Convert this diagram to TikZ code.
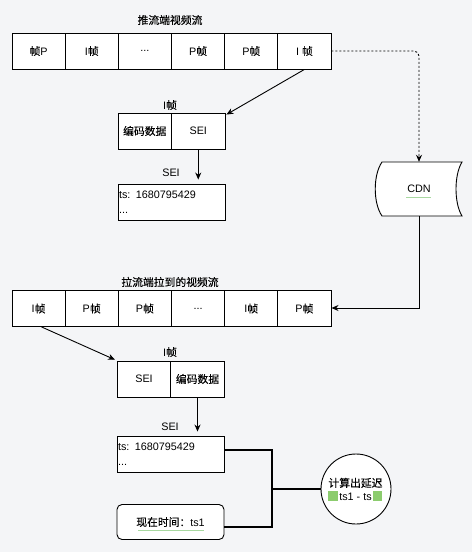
\documentclass[tikz,border=0pt]{standalone}
\usepackage{fontspec}
\setmainfont{Liberation Sans}
\newfontfamily\cjk[FakeBold=0.1]{Noto Sans CJK SC}
\usetikzlibrary{arrows.meta,calc}
\definecolor{bggray}{HTML}{F4F5F7}
\definecolor{hlgreen}{HTML}{8CCC6E}
\definecolor{ulgreen}{HTML}{A8D8A0}
\begin{document}
\begin{tikzpicture}[x=1pt,y=-1pt,
  every node/.style={font=\fontsize{10.8}{13}\selectfont, text=black},
  cell/.style={draw, line width=0.9pt, fill=white, minimum width=53.2pt, minimum height=36pt, inner sep=0pt, anchor=center},
  half/.style={draw, line width=0.9pt, fill=white, minimum width=53.5pt, minimum height=36pt, inner sep=0pt},
  seibox/.style={draw, line width=0.9pt, fill=white, minimum width=107pt, minimum height=36pt, text width=105pt, align=left, inner sep=1pt, font=\fontsize{10.8}{14.5}\selectfont},
  lbl/.style={inner sep=0pt},
  arr/.style={line width=0.9pt, -{Stealth[length=7pt,width=6pt]}},
  thick line/.style={line width=1.8pt}
]
\useasboundingbox (0,0) rectangle (474,554);
\fill[white] (0,0) rectangle (474,554);
\fill[bggray] (0,0) rectangle (472,552);

% top stream
\node[lbl] (title1) at (170,20) {\cjk 推流端视频流};
\node[cell] (t1) at (38.6,51) {{\cjk 帧}P};
\node[cell] (t2) at (91.75,51) {I{\cjk 帧}};
\node[cell] (t3) at (144.9,51) {...};
\node[cell] (t4) at (198.1,51) {P{\cjk 帧}};
\node[cell] (t5) at (251.25,51) {P{\cjk 帧}};
\node[cell] (t6) at (304.4,51) {I {\cjk 帧}};

% pushed I frame
\node[lbl] (lia) at (170,105) {I{\cjk 帧}};
\node[half] (a1) at (144.75,131) {\cjk 编码数据};
\node[half] (a2) at (198.25,131) {SEI};
\node[lbl] (lsei1) at (171,173) {SEI};
\node[seibox] (sei1) at (171.5,202) {ts: 1680795429\\...};

\draw[arr] (t6.south) -- ([shift={(1pt,-2pt)}]a2.north east);
\draw[arr, shorten >=4pt] (a2.south) -- (a2.south |- sei1.north);

% CDN
\node[inner sep=0pt, minimum width=86pt, minimum height=54pt] (cdn) at (419,189) {};
\draw[line width=0.9pt, fill=white] (382,162) -- (462,162)
  .. controls (454,175) and (454,203) .. (462,216) -- (382,216)
  .. controls (373,203) and (373,175) .. (382,162) -- cycle;
\node[inner sep=0pt] (cdntxt) at (419,189) {CDN};
\draw[ulgreen, line width=0.8pt] (406,197) -- (431,197);

\draw[arr, dash pattern=on 2pt off 2pt, rounded corners=5pt] (t6.east) -| (cdn.north);
\draw[arr] (cdn.south) |- (331.5,308);

% pulled stream
\node[lbl] (title2) at (170,282) {\cjk 拉流端拉到的视频流};
\node[cell] (b1) at (38.6,308.5) {I{\cjk 帧}};
\node[cell] (b2) at (91.75,308.5) {P{\cjk 帧}};
\node[cell] (b3) at (144.9,308.5) {P{\cjk 帧}};
\node[cell] (b4) at (198.1,308.5) {...};
\node[cell] (b5) at (251.25,308.5) {I{\cjk 帧}};
\node[cell] (b6) at (304.4,308.5) {P{\cjk 帧}};

% pulled I frame
\node[lbl] (lib) at (170,352) {I{\cjk 帧}};
\node[half] (c1) at (144,379) {SEI};
\node[half] (c2) at (197.5,379) {\cjk 编码数据};
\node[lbl] (lsei2) at (170,427) {SEI};
\node[seibox] (sei2) at (170.5,454) {ts: 1680795429\\...};

\draw[arr, shorten >=2pt] ([xshift=3pt]b1.south) -- (c1.north west);
\draw[arr, shorten >=4pt] (c2.south) -- (c2.south |- sei2.north);

% now time
\node[draw, line width=0.9pt, fill=white, rounded corners=5pt, minimum width=107pt, minimum height=35pt] (now) at (170.5,522) {{\cjk 现在时间：}ts1};
\draw[ulgreen, line width=0.8pt] (138,530.5) -- (204,530.5);

% result circle
\node[draw, circle, line width=0.9pt, fill=white, minimum size=70pt, inner sep=0pt] (res) at (356,489) {};
\fill[hlgreen] (328,491) rectangle (337.5,501);
\fill[hlgreen] (373,491) rectangle (382,501);
\node[lbl, align=center] (restxt) at (355.5,489) {{\cjk 计算出延迟}\\ts1 - ts};

\coordinate (j) at (272,489);
\draw[thick line] ([yshift=4pt]sei2.east) -| (j);
\draw[thick line] ([yshift=-5pt]now.east) -| (j);
\draw[thick line] (j) -- (res.west);
\end{tikzpicture}
\end{document}
